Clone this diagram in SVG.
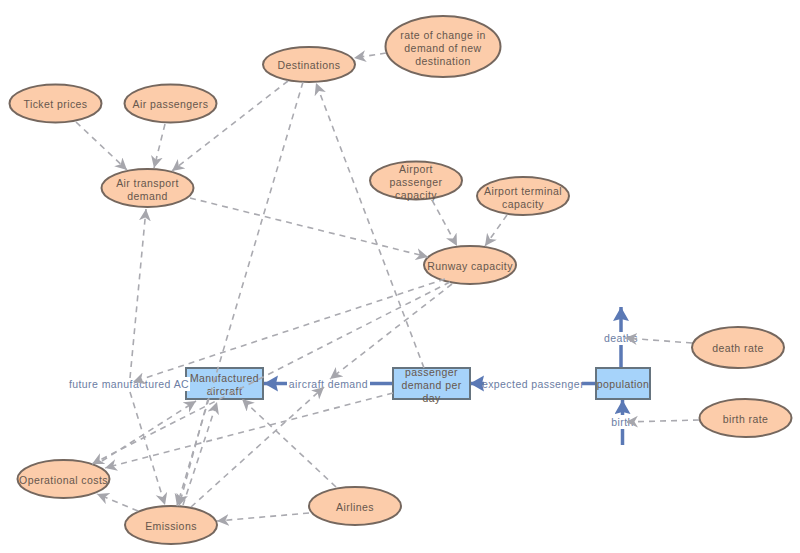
<svg xmlns="http://www.w3.org/2000/svg" width="800" height="553" viewBox="0 0 800 553">
<style>
text{font-family:"Liberation Sans","DejaVu Sans",sans-serif;font-size:10.5px;letter-spacing:.42px;text-anchor:middle}
.n ellipse{fill:#fcccaa;stroke:#75675e;stroke-width:2}
.n rect.b{fill:#a6d3fa;stroke:#66747f;stroke-width:2}
.n text{fill:#66574d}
.f line{stroke:#5b79b5;stroke-width:3.5}
.l rect{fill:#fff}
.l text{fill:#6b7da3}
.d line{stroke:#aaaab0;stroke-width:1.6;stroke-dasharray:6 5;marker-end:url(#a);fill:none}
</style>
<defs>
<marker id="a" markerUnits="userSpaceOnUse" markerWidth="14" markerHeight="14" refX="12" refY="6" orient="auto"><path d="M0 0L12 6L0 12L3.500 6Z" fill="#a6a6ac"/></marker>
<marker id="h" markerUnits="userSpaceOnUse" markerWidth="16" markerHeight="18" refX="14" refY="8" orient="auto"><path d="M0 0L14 8L0 16L2 8Z" fill="#5b79b5"/></marker>
</defs>
<rect width="800" height="553" fill="#fff"/>
<g id="rate-of-change" class="n"><ellipse cx="443" cy="46.500" rx="57.500" ry="30.500"/><text x="443" y="39">rate of change in</text><text x="443" y="52">demand of new</text><text x="443" y="65">destination</text></g>
<g id="destinations" class="n"><ellipse cx="309" cy="64.500" rx="46" ry="17.500"/><text x="309" y="69">Destinations</text></g>
<g id="ticket-prices" class="n"><ellipse cx="55.500" cy="103.500" rx="46" ry="19"/><text x="55.500" y="108">Ticket prices</text></g>
<g id="air-passengers" class="n"><ellipse cx="170.500" cy="103.500" rx="46" ry="19"/><text x="170.500" y="108">Air passengers</text></g>
<g id="air-transport-demand" class="n"><ellipse cx="147.500" cy="188" rx="46" ry="19"/><text x="147.500" y="187">Air transport</text><text x="147.500" y="200">demand</text></g>
<g id="airport-passenger-capacity" class="n"><ellipse cx="416" cy="180.500" rx="46" ry="19"/><text x="416" y="172.500">Airport</text><text x="416" y="186">passenger</text><text x="416" y="199">capacity</text></g>
<g id="airport-terminal-capacity" class="n"><ellipse cx="523" cy="196" rx="46" ry="19"/><text x="523" y="195">Airport terminal</text><text x="523" y="208">capacity</text></g>
<g id="runway-capacity" class="n"><ellipse cx="470" cy="265" rx="46" ry="19"/><text x="470" y="270">Runway capacity</text></g>
<g id="death-rate" class="n"><ellipse cx="738" cy="347.500" rx="46" ry="20.500"/><text x="738" y="352">death rate</text></g>
<g id="birth-rate" class="n"><ellipse cx="745.500" cy="418" rx="46" ry="19"/><text x="745.500" y="423">birth rate</text></g>
<g id="operational-costs" class="n"><ellipse cx="63.500" cy="479" rx="46" ry="19"/><text x="63.500" y="484">Operational costs</text></g>
<g id="emissions" class="n"><ellipse cx="171" cy="525" rx="46" ry="19"/><text x="171" y="530">Emissions</text></g>
<g id="airlines" class="n"><ellipse cx="355" cy="506" rx="46" ry="19"/><text x="355" y="511">Airlines</text></g>
<g id="connectors-flow" class="f">
<line x1="393" y1="383.500" x2="264" y2="383.500" marker-end="url(#h)"/>
<line x1="596" y1="383.500" x2="470" y2="383.500" marker-end="url(#h)"/>
<line x1="621" y1="368" x2="621" y2="307" marker-end="url(#h)"/>
<line x1="622.500" y1="445" x2="622.500" y2="400" marker-end="url(#h)"/>
</g>
<g id="manufactured-aircraft" class="n"><rect class="b" x="186" y="368" width="77" height="31"/><text x="224.500" y="382">Manufactured</text><text x="224.500" y="395">aircraft</text></g>
<g id="passenger-demand" class="n"><rect class="b" x="393" y="368" width="77" height="31"/><text x="431.500" y="376">passenger</text><text x="431.500" y="389">demand per</text><text x="431.500" y="402">day</text></g>
<g id="population" class="n"><rect class="b" x="596" y="368" width="54" height="31"/><text x="623" y="388">population</text></g>
<g id="labels" class="l">
<rect x="68" y="377" width="122" height="14"/><text x="129" y="388">future manufactured AC</text>
<rect x="287" y="377" width="83" height="14"/><text x="328.500" y="388">aircraft demand</text>
<rect x="484" y="377" width="98" height="14"/><text x="533" y="388">expected passenger</text>
<rect x="604" y="332" width="35" height="13"/><text x="621" y="342">deaths</text>
<rect x="609" y="415" width="27" height="14"/><text x="622.500" y="426">birth</text>
</g>
<g id="connectors" class="d">
<line x1="386" y1="53" x2="354" y2="58"/>
<line x1="288" y1="81" x2="172" y2="171"/>
<line x1="303" y1="82" x2="177" y2="506"/>
<line x1="424" y1="368" x2="316" y2="83"/>
<line x1="76" y1="122" x2="127" y2="170"/>
<line x1="165" y1="124" x2="154" y2="168"/>
<line x1="190" y1="198" x2="428" y2="257"/>
<line x1="432" y1="200" x2="457" y2="246"/>
<line x1="507" y1="215" x2="485" y2="246"/>
<line x1="445" y1="279" x2="133" y2="382"/>
<line x1="450" y1="282" x2="92" y2="464"/>
<line x1="102" y1="461" x2="196" y2="401"/>
<line x1="208" y1="399" x2="179" y2="506"/>
<line x1="183" y1="505" x2="217" y2="402"/>
<line x1="191" y1="507" x2="324" y2="387"/>
<line x1="452" y1="284" x2="330" y2="379"/>
<line x1="393" y1="393" x2="105" y2="468"/>
<line x1="336" y1="487" x2="242" y2="399"/>
<line x1="309" y1="513" x2="217" y2="521"/>
<line x1="138" y1="511" x2="97" y2="494"/>
<line x1="130" y1="378" x2="146" y2="209"/>
<line x1="130" y1="392" x2="165" y2="505"/>
<line x1="692" y1="343" x2="625" y2="338"/>
<line x1="699" y1="420" x2="626" y2="422"/>
</g>
</svg>
